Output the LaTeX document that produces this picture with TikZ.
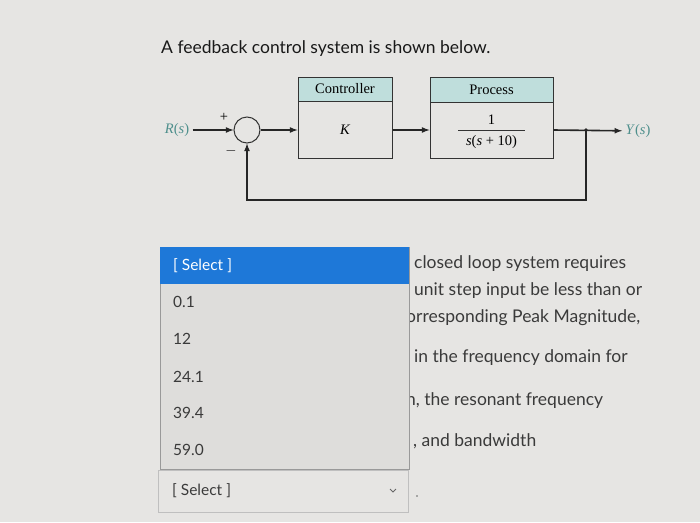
\documentclass[tikz,border=0pt]{standalone}
\usepackage{fontspec}
\setmainfont{Lato}
\newfontfamily\timesfont{Liberation Serif}
\usetikzlibrary{positioning}
\definecolor{pagebg}{HTML}{E6E5E3}
\definecolor{headteal}{HTML}{BFDEDC}
\definecolor{selblue}{HTML}{1E78D8}
\definecolor{menubg}{HTML}{DEDDDB}
\definecolor{txtgray}{HTML}{3A3A3A}
\definecolor{labteal}{HTML}{4E8F8C}

\tikzset{
  block/.style={draw=black!80,line width=1pt,minimum width=94pt,minimum height=57pt,inner sep=0pt},
  head/.style={draw=black!80,line width=1pt,fill=headteal,minimum height=24pt,inner sep=0pt,font=\timesfont\fontsize{14.5}{16}\selectfont},
  dlab/.style={font=\timesfont\fontsize{14.5}{16}\selectfont},
  sig/.style={line width=1.6pt,black!85},
  item/.style={anchor=west,inner sep=0pt,font=\fontsize{15.5}{17}\selectfont,text=txtgray},
  body/.style={anchor=west,inner sep=0pt,font=\fontsize{17.5}{20}\selectfont,text=txtgray},
}

\begin{document}
\begin{tikzpicture}[x=1pt,y=-1pt,>=latex]
\fill[pagebg] (0,0) rectangle (700,522);
\useasboundingbox (0,0) rectangle (700,522);
%%
\node (title) at (161,49) [anchor=west,inner sep=0pt,font=\fontsize{17.5}{20}\selectfont,text=black!90] {A feedback control system is shown below.};
% block diagram
\node (ctrl) at (345,130) [block,dlab] {\itshape K};
\node (ctrlh) at (345,89) [head,minimum width=94pt] {Controller};
\node (proc) at (491.5,130) [block,minimum width=123pt,dlab] {};
\node (num) at (491.5,120) [dlab] {1};
\node (den) at (491.5,142) [dlab] {\textit{s}(\textit{s} + 10)};
\draw[black!80,line width=0.6pt] (458,130) -- (525,130);
\node (proch) at (491.5,89.5) [head,minimum width=123pt,minimum height=25pt] {Process};
\node (sum) at (247,130) [draw=black!80,line width=1pt,circle,minimum size=26pt,inner sep=0pt] {};
\node (r) at (177,130) [dlab,text=labteal] {\textit{R}(\textit{s})};
\node (y) at (638,131) [dlab,text=labteal] {\textit{Y}(\textit{s})};
\node (plus) at (224,117) [dlab] {+};
\node (minus) at (231,151) [dlab] {$-$};
\coordinate (tap) at (586,130);
\coordinate (fb) at (586,200);
\draw[sig,->] (r) -- (sum);
\draw[sig,->] (sum) -- (ctrl.west |- sum);
\draw[sig,->] (ctrl.east |- sum) -- (proc.west |- sum);
\draw[sig,->] (proc.east |- sum) -- (y);
\fill[black!85] (tap) circle (1.8pt);
\draw[sig,->] (tap) -- (fb) -| (sum.south);
% question text
\node (l1) at (414,264) [body] {closed loop system requires};
\node (l2) at (414,291) [body] {unit step input be less than or};
\node (l3) at (406,318) [body] {orresponding Peak Magnitude,};
\node (l4) at (414,358) [body] {in the frequency domain for};
\node (l5) at (406,401) [body] {n, the resonant frequency};
\node (l6) at (413,441) [body] {, and bandwidth};
% dropdown
\node (menu) at (284.5,358) [draw=black!40,fill=menubg,minimum width=249pt,minimum height=222pt,inner sep=0pt] {};
\node (sel) at (284.5,265.5) [fill=selblue,minimum width=249pt,minimum height=37pt,inner sep=0pt] {};
\node at (173,266) [item,text=white] {[ Select ]};
\node at (173,302) [item] {0.1};
\node at (173,339) [item] {12};
\node at (173,377) [item] {24.1};
\node at (173,413) [item] {39.4};
\node at (173,450) [item] {59.0};
\node (box) at (283,491) [draw=black!25,minimum width=250pt,minimum height=42pt,inner sep=0pt] {};
\node at (172,491) [item] {[ Select ]};
\draw[black!60,line width=0.8pt] (390,489) -- (393,492) -- (396,489);
\fill[black!60] (417,496) circle (0.9pt);
%
\end{tikzpicture}
\end{document}
